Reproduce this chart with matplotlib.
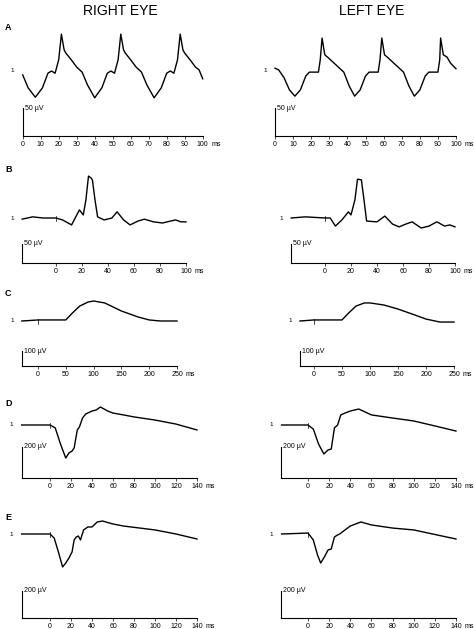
import numpy as np
import matplotlib
matplotlib.use("Agg")
import matplotlib.pyplot as plt

plt.rcParams['font.family'] = ['Liberation Sans', 'DejaVu Sans']

# ---- traces (time in ms, amplitude in uV relative to baseline) ----
a_right_t = [0, 3, 7, 11, 14, 16, 18, 20, 21.5, 23, 24, 27, 30, 33, 36, 40, 44, 47, 49, 51, 53, 54.5, 56, 57,
             60, 63, 66, 69, 73, 77, 80, 82, 84, 86, 87.5, 89, 90, 93, 96, 98, 100]
a_right_v = [-7, -30, -47, -30, -4, 0, -4, 20, 66, 38, 32, 20, 7, -2, -25, -48, -30, -4, 0, -4, 20, 66, 38, 32,
             20, 7, -2, -25, -48, -30, -4, 0, -4, 20, 66, 38, 32, 20, 7, 2, -14]
a_left_t = [0, 2, 5, 8, 11, 14, 17, 19, 24, 25, 26, 27.5, 29, 32, 35, 38, 41, 44, 47, 50, 52, 57, 58, 59, 60.5,
            62, 65, 68, 71, 74, 77, 80, 83, 85, 90, 91, 91.5, 93, 95, 97, 100]
a_left_v = [5, 2, -12, -34, -45, -34, -9, -2, -2, 20, 59, 29, 25, 16, 7, -2, -27, -45, -34, -9, -2, -2, 20, 59, 29,
            25, 16, 7, -2, -27, -45, -34, -9, -2, -2, 20, 59, 29, 25, 14, 4]

b_right_t = [-26, -18, -10, -2, 0, 5, 12, 18, 21, 23, 25, 27, 28, 30, 32, 37, 43, 47, 52, 57, 63, 68, 75, 82, 88, 92, 96, 100]
b_right_v = [-3, 3, 0, 0, 0, -5, -18, 21, 8, 47, 109, 104, 99, 47, 3, -5, 0, 16, -5, -18, -8, -3, -10, -13, -8, -5, -10, -10]
b_left_t = [-26, -15, 0, 4, 8, 13, 18, 20, 23, 25, 28, 30, 32, 40, 46, 52, 57, 62, 67, 74, 80, 86, 92, 96, 100]
b_left_v = [0, 3, 0, 0, -21, -5, 16, 8, 47, 101, 99, 47, -8, -10, 5, -16, -23, -16, -10, -26, -21, -10, -21, -18, -23]

c_right_t = [-29, 0, 50, 62, 75, 90, 100, 120, 150, 180, 200, 220, 250]
c_right_v = [0, 7, 7, 54, 100, 127, 134, 121, 67, 27, 7, 0, 0]
c_left_t = [-25, 0, 50, 62, 75, 90, 100, 125, 150, 175, 200, 225, 250]
c_left_v = [0, 7, 7, 54, 100, 121, 121, 107, 80, 47, 13, -7, -7]

d_right_t = [-27, 0, 5, 10, 15, 18, 21, 23, 26, 28, 31, 34, 40, 44, 48, 55, 60, 70, 80, 100, 120, 140]
d_right_v = [0, 0, -19, -123, -213, -181, -168, -148, -32, -13, 45, 71, 90, 97, 116, 90, 77, 65, 52, 32, 6, -32]
d_left_t = [-25, 0, 5, 10, 15, 19, 22, 25, 28, 31, 35, 40, 48, 60, 80, 100, 120, 140]
d_left_v = [0, 0, -26, -123, -187, -161, -155, -19, 0, 65, 77, 90, 103, 65, 45, 26, -6, -39]

e_right_t = [-27, 0, 4, 8, 12, 15, 18, 21, 23, 25, 27, 29, 32, 36, 40, 45, 50, 60, 70, 100, 120, 140]
e_right_v = [0, 0, -30, -133, -244, -215, -178, -133, -44, -22, -15, -44, 30, 52, 52, 89, 96, 74, 59, 30, 0, -37]
e_left_t = [-25, 0, 5, 9, 12, 16, 19, 22, 25, 28, 30, 35, 40, 50, 60, 80, 100, 140]
e_left_v = [0, 7, -44, -155, -215, -163, -118, -111, -22, -7, 0, 30, 59, 89, 67, 44, 30, -37]

W, H = 474, 629
fig = plt.figure(figsize=(W / 100, H / 100), dpi=100)

# geometry per panel: x of 0 ms (px), px per ms, start ms, end ms, axis y, baseline y, uV per px, bar uV, tick step
panels = [
    ("A", a_right_t, a_right_v, a_left_t, a_left_v, (22.7, 275), (1.80, 1.81), (0, 0), 100, 136, 71, 1.79, 50, 10, 27),
    ("B", b_right_t, b_right_v, b_left_t, b_left_v, (56, 325), (1.3, 1.3), (-26, -26), 100, 263, 218, 2.6, 50, 20, 170),
    ("C", c_right_t, c_right_v, c_left_t, c_left_v, (38, 314), (0.556, 0.56), (-29, -25), 250, 366, 321, 6.7, 100, 50, 293),
    ("D", d_right_t, d_right_v, d_left_t, d_left_v, (50, 308), (1.05, 1.057), (-27, -25.5), 140, 478, 425, 6.45, 200, 20, 403),
    ("E", e_right_t, e_right_v, e_left_t, e_left_v, (50, 308), (1.05, 1.057), (-27, -25.5), 140, 618, 534, 7.4, 200, 20, 517),
]

for letter, rt, rv, lt, lv, x0s, ppms, starts, end, ay, by, scale, bar, step, ly in panels:
    fig.text(5 / W, 1 - ly / H, letter, fontsize=6.5, fontweight='bold', va='center')
    for col, (t, v) in enumerate([(rt, rv), (lt, lv)]):
        x0, ppm, st = x0s[col], ppms[col], starts[col]
        xl = x0 + st * ppm
        xr = x0 + end * ppm
        top = by - 50
        ax = fig.add_axes([xl / W, 1 - ay / H, (xr - xl) / W, (ay - top) / H])
        ax.patch.set_visible(False)
        ymin = -(ay - by) * scale
        ax.set_xlim(st, end)
        ax.set_ylim(ymin, (by - top) * scale)
        ax.plot(t, v, color='black', lw=1.0, clip_on=False)
        if letter != "A":
            ax.plot([0, 0], [-2.5 * scale, 2.5 * scale], color='black', lw=0.5)
        for s in ['top', 'right']:
            ax.spines[s].set_visible(False)
        ax.spines['left'].set_bounds(ymin, ymin + bar)
        ax.spines['left'].set_linewidth(0.8)
        ax.spines['bottom'].set_linewidth(0.8)
        ax.set_yticks([])
        ticks = np.arange(0, end + 1, step)
        ax.set_xticks(ticks)
        ax.set_xticklabels([str(k) for k in ticks])
        ax.tick_params(axis='x', length=2, width=0.5, labelsize=5, pad=1.5)
        ax.annotate("ms", (end, ymin), xytext=(6, -3.5), textcoords='offset points',
                    fontsize=5, va='top', ha='left', annotation_clip=False)
        ax.annotate(f"{bar} µV", (st, ymin + bar), xytext=(1.5, 0), textcoords='offset points',
                    fontsize=5, va='center', ha='left', annotation_clip=False)
        ax.annotate("1", (st, 0), xytext=(-6, 0), textcoords='offset points',
                    fontsize=4.5, va='center', ha='right', annotation_clip=False)

fig.text(120 / W, 1 - 11 / H, "RIGHT EYE", fontsize=10, ha='center', va='center')
fig.text(372 / W, 1 - 11 / H, "LEFT EYE", fontsize=10, ha='center', va='center')

fig.savefig("out.png", dpi=100)
